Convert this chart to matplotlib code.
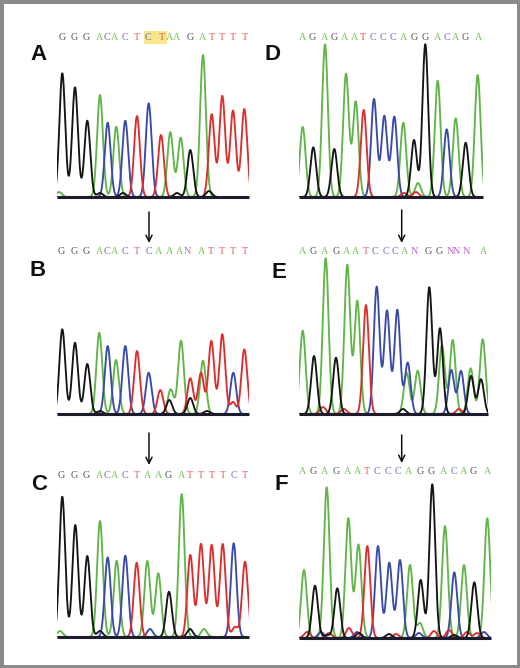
import numpy as np
import matplotlib
matplotlib.use("Agg")
import matplotlib.pyplot as plt
from matplotlib.patches import Rectangle

# peaks: (scan position, signal height) per dye channel
panel_a_black = [(5.3, 123.7), (18, 109.7), (30.3, 76.3), (43, 4), (66, 4), (120, 4), (133.3, 47), (152, 6)]
panel_a_green = [(43, 102), (59.3, 70.3), (113.3, 64.7), (123.7, 59.3), (146, 142), (2, 5)]
panel_a_blue = [(50.7, 74.3), (68.3, 76.3), (91.7, 93.7)]
panel_a_red = [(80, 81), (104, 62), (154.7, 82.7), (165.3, 101), (176, 86.3), (187.3, 88)]
panel_a_seq = "GGGACACTCTAAGATTTT"
panel_a_pos = [5.3, 17, 29.7, 42.3, 50, 58, 68.3, 79.7, 91.3, 104.7, 112.3, 119.7, 133, 145.3, 155.3, 165.3, 176.3, 188]

panel_b_black = [(5.3, 84.7), (18, 71.3), (30.3, 50), (112.3, 14), (133.3, 16), (43, 3), (150, 3)]
panel_b_green = [(42.3, 81.3), (59, 54), (113.7, 24.7), (124, 73.3), (146, 53.3)]
panel_b_blue = [(50.7, 68), (68.3, 68), (91.7, 41.3), (176.3, 41.3)]
panel_b_red = [(80, 63), (103.3, 24), (133.3, 35.7), (144, 41.3), (154.3, 73), (165.3, 79.7), (187.3, 64.7), (176, 12)]
panel_b_seq = "GGGACACTCAAANATTTT"
panel_b_pos = [4.7, 17, 29, 42.3, 49.7, 58, 68, 79.7, 91.7, 101.3, 113, 123, 130.3, 144.7, 154, 164.7, 176.3, 188]

panel_c_black = [(5.3, 140.3), (18.3, 112), (30.3, 81), (112, 45.3), (43, 6), (133, 8)]
panel_c_green = [(43, 116), (59.7, 76.3), (90.3, 76), (101.3, 63.7), (124.7, 143), (147, 8), (3, 6)]
panel_c_blue = [(50.7, 79.7), (68.3, 81.3), (176.7, 93.7), (93, 8)]
panel_c_red = [(79.7, 74.3), (133.3, 82), (144, 93), (154.7, 92), (165.7, 93), (188, 75.3), (178, 10)]
panel_c_seq = "GGGACACTAAGATTTTCT"
panel_c_pos = [4.7, 17, 29.7, 43, 49.7, 58, 68, 79.7, 90.7, 101.3, 111.3, 124.7, 133, 143.7, 154.7, 165.7, 177.3, 188]

panel_d_green = [(3.7, 70), (26, 152.7), (47, 123), (56.7, 95.3), (104.3, 74.3), (138.7, 116.3), (156.7, 78.7), (178.7, 122), (119, 14)]
panel_d_black = [(14.3, 49.7), (35.3, 48), (115, 57), (126.3, 152.7), (166.7, 54.3)]
panel_d_red = [(64.7, 87), (117, 5), (105, 4)]
panel_d_blue = [(75, 98), (85.3, 81), (95.3, 80.3), (147.7, 67.7)]
panel_d_seq = "AGAGAATCCCAGGACAGA"
panel_d_pos = [3.7, 13.7, 26, 35.3, 46, 56, 64.3, 74.3, 84.3, 94.3, 104.3, 115, 126, 138.7, 147.7, 156.7, 166.7, 179.3]

panel_e_green = [(3.7, 83.3), (26.7, 155.7), (48.3, 149), (58.3, 113), (107.7, 41), (118.7, 43.3), (143, 69),
                 (153.7, 74), (171.7, 45.7), (183.7, 74.7)]
panel_e_black = [(15, 58), (37, 56.3), (130.3, 126.7), (141, 85.7), (172, 38), (182, 34.7), (104, 5)]
panel_e_red = [(67, 109), (24, 7), (45, 5), (160, 5)]
panel_e_blue = [(77.7, 127.3), (88, 103.3), (98.3, 104), (108.7, 51.3), (152.3, 44), (162, 43)]
panel_e_seq = "AGAGAATCCCANGGNNNA"
panel_e_pos = [3.7, 14.3, 26, 37, 47.7, 57, 67, 76, 87, 96, 106, 115, 129.3, 140.3, 151, 157.7, 167.7, 185]

panel_f_green = [(5, 68), (27.7, 150.7), (49.3, 119.7), (59.3, 88), (111, 73), (146, 112), (165, 73), (188.3, 119.7),
                 (62, 8), (121, 15)]
panel_f_black = [(16, 52.3), (38.3, 49.7), (121.7, 58), (133.3, 153.7), (175.3, 55.7), (28, 3), (60, 5), (90, 4), (155, 3)]
panel_f_red = [(68.3, 92), (8, 6), (30, 5), (50, 10), (97, 4), (135, 7), (150, 8), (168, 6), (178, 5)]
panel_f_blue = [(79, 92), (90.3, 75.3), (101, 78), (155.3, 65.7), (22, 6), (58, 6), (120, 5), (185, 6)]
panel_f_seq = "AGAGAATCCCAGGACAGA"
panel_f_pos = [3.7, 14.3, 26, 37, 48.3, 58.3, 67.7, 77.7, 88.7, 99.3, 109.3, 121, 132.7, 145, 155.3, 164.3, 174.3, 188.7]

dye_colors = {"black": "#151515", "green": "#62b548", "blue": "#3a4aa8", "red": "#dc2e2e"}
base_colors = {"G": "#555555", "A": "#7cc45c", "C": "#6c6cb8", "T": "#e05a5a", "N": "#c262c2"}


def draw_trace(axes, width, channels):
  scan = np.linspace(-4, width + 4, 900)
  for dye in ["green", "blue", "red", "black"]:
    signal = np.zeros_like(scan)
    for position, height in channels[dye]:
      signal += height * np.exp(-(scan - position) ** 2 / (2 * 2.9 ** 2))
    axes.plot(scan, signal, color=dye_colors[dye], lw=1.35, clip_on=True)


def main():
  figure = plt.figure(figsize=(5.2, 6.68), dpi=100)
  figure.patch.set_facecolor("white")

  # left px, right px, baseline px, label, label offset, seq height, arrow
  panels = [
    (57, 249, 197, "A", (-18.5, 142.5), 160, None,
     {"black": panel_a_black, "green": panel_a_green, "blue": panel_a_blue, "red": panel_a_red}, panel_a_seq, panel_a_pos),
    (57, 249, 414, "B", (-19, 144), 162, (92, 202, 171),
     {"black": panel_b_black, "green": panel_b_green, "blue": panel_b_blue, "red": panel_b_red}, panel_b_seq, panel_b_pos),
    (57, 249, 637, "C", (-18, 152), 162, (92, 204, 172),
     {"black": panel_c_black, "green": panel_c_green, "blue": panel_c_blue, "red": panel_c_red}, panel_c_seq, panel_c_pos),
    (299, 483, 197, "D", (-26, 143), 160, None,
     {"black": panel_d_black, "green": panel_d_green, "blue": panel_d_blue, "red": panel_d_red}, panel_d_seq, panel_d_pos),
    (299, 488, 414, "E", (-20, 142), 162, (102.7, 204, 171),
     {"black": panel_e_black, "green": panel_e_green, "blue": panel_e_blue, "red": panel_e_red}, panel_e_seq, panel_e_pos),
    (299, 491, 638, "F", (-18, 153), 167, (102.7, 203, 175),
     {"black": panel_f_black, "green": panel_f_green, "blue": panel_f_blue, "red": panel_f_red}, panel_f_seq, panel_f_pos),
  ]

  panel_height = 175
  for left, right, baseline, label, label_at, seq_height, arrow, channels, sequence, seq_pos in panels:
    width = right - left
    axes = figure.add_axes([left / 520, (668 - baseline) / 668, width / 520, panel_height / 668])
    axes.set_xlim(0, width)
    axes.set_ylim(0, panel_height)
    axes.axis("off")
    draw_trace(axes, width, channels)
    axes.plot([0, width], [0, 0], color="#1c1c2c", lw=2.2, solid_capstyle="butt", clip_on=False)

    if label == "A":
      axes.add_patch(Rectangle((87, 153), 23, 13, facecolor="#f8e68a", edgecolor="none", clip_on=False))

    for base, position in zip(sequence, seq_pos):
      axes.text(position, seq_height, base, color=base_colors[base], fontsize=7.3, family="Liberation Serif",
                ha="center", va="center", clip_on=False)

    axes.text(label_at[0], label_at[1], label, fontsize=16, fontweight="bold", family="Liberation Sans",
              ha="center", va="center", color="#111111", clip_on=False)

    if arrow is not None:
      axes.annotate("", xy=(arrow[0], arrow[2]), xytext=(arrow[0], arrow[1]), annotation_clip=False,
                    arrowprops=dict(arrowstyle="->", lw=1.1, color="#111111", mutation_scale=11,
                                    shrinkA=0, shrinkB=0))

  figure.add_artist(Rectangle((0, 0), 1, 1, transform=figure.transFigure, fill=False,
                              edgecolor="#8a8a8a", lw=5))

  plt.savefig("out.png", dpi=100)
  plt.close()


if __name__ == "__main__":
  main()
